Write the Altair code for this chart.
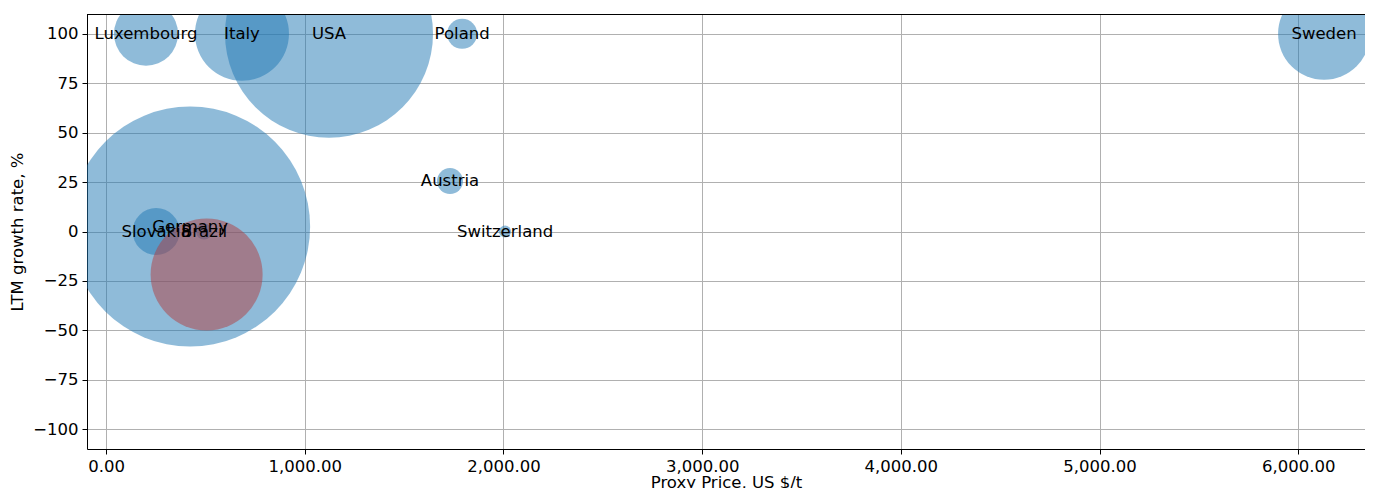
import altair as alt
import pandas as pd

# Country bubbles
countries = ["Luxembourg", "Italy", "USA", "Poland", "Sweden", "Austria",
             "Switzerland", "Germany", "Slovakia", "Brazil"]
price = [201, 684, 1122, 1792, 6130, 1731, 2008, 423, 252, 493]
growth = [100, 100, 100, 100, 100, 25.5, 0, 2.5, 0, 0]
volume = [1024, 2209, 10816, 225, 2116, 169, 36, 14400, 552, 64]

# Highlighted (unlabelled) bubble
highlight_price = [506]
highlight_growth = [-21.7]
highlight_volume = [3136]

x_ticks = [0, 1000, 2000, 3000, 4000, 5000, 6000]
y_ticks = [-100, -75, -50, -25, 0, 25, 50, 75, 100]

df = pd.DataFrame({"country": countries, "price": price,
                   "growth": growth, "volume": volume})
dh = pd.DataFrame({"price": highlight_price, "growth": highlight_growth,
                   "volume": highlight_volume})

FONT = "DejaVu Sans"
FS = 16.5
W, H = 1278, 435

xscale = alt.Scale(domain=[-96, 6336], nice=False, zero=False)
yscale = alt.Scale(domain=[-110, 110], nice=False, zero=False)
# Vega circle: size = (2r)^2
sscale = alt.Scale(type="linear", domain=[0, 14400], range=[0, 57600])

xenc = alt.X("price:Q", scale=xscale, title="Proxy Price, US $/t",
             axis=alt.Axis(values=x_ticks, format=",.2f", titlePadding=0))
yenc = alt.Y("growth:Q", scale=yscale, title="LTM growth rate, %",
             axis=alt.Axis(values=y_ticks, titlePadding=7))

bubbles = alt.Chart(df).mark_circle(clip=True, opacity=0.5, color="#1f77b4").encode(
    x=xenc, y=yenc,
    size=alt.Size("volume:Q", scale=sscale, legend=None),
)

highlight = alt.Chart(dh).mark_circle(clip=True, opacity=0.5, color="#b13d3f").encode(
    x="price:Q", y="growth:Q",
    size=alt.Size("volume:Q", scale=sscale, legend=None),
)

labels = alt.Chart(df).mark_text(font=FONT, fontSize=FS, color="black",
                                 align="center", baseline="middle").encode(
    x="price:Q", y="growth:Q", text="country:N"
)

top_spine = alt.Chart(df).mark_rule(color="black", strokeWidth=1).encode(
    x=alt.value(0), x2=alt.value(W), y=alt.value(0.5)
)

chart = alt.layer(bubbles, highlight, labels, top_spine).properties(
    width=W, height=H,
    padding={"left": 79, "top": 6, "right": 0, "bottom": 39},
    autosize=alt.AutoSizeParams(type="none"),
).configure_view(
    strokeWidth=0
).configure_axis(
    zindex=1,
    grid=True, gridColor="#b0b0b0", gridWidth=1,
    domainColor="black", domainWidth=1,
    tickColor="black", tickSize=5, tickWidth=1,
    labelFont=FONT, labelFontSize=FS, labelColor="black", labelPadding=4,
    titleFont=FONT, titleFontSize=FS, titleColor="black", titleFontWeight="normal",
)

chart.save("out.html", embed_options={"renderer": "svg", "actions": False})
